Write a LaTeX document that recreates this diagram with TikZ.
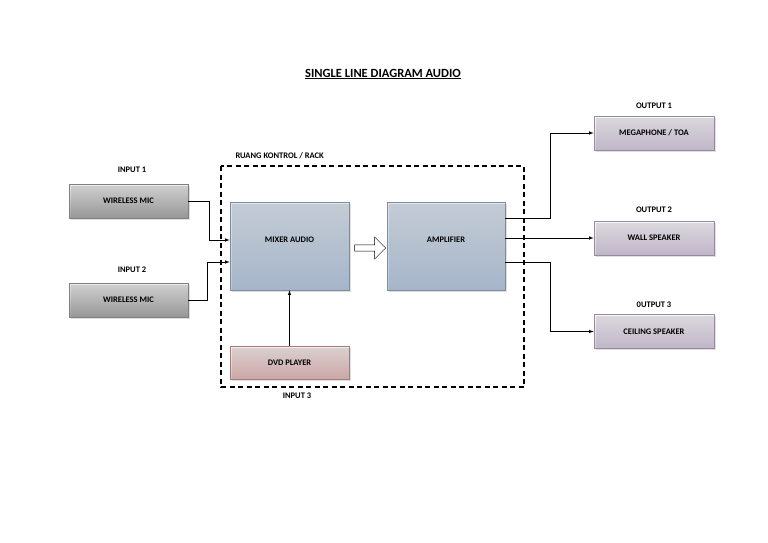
\documentclass[tikz,border=0pt]{standalone}
\usepackage{fontspec}
\setmainfont{Carlito}
\usetikzlibrary{shapes.arrows,shadows}
\definecolor{bt}{HTML}{DCE6F2}\definecolor{bb}{HTML}{B2C8E2}
\definecolor{pt}{HTML}{FAF8FC}\definecolor{pb}{HTML}{D6C8E2}
\definecolor{rt}{HTML}{FBEDED}\definecolor{rb}{HTML}{E6B4B4}
\begin{document}
\begin{tikzpicture}[x=1pt,y=-1pt,
  box/.style={draw=#1, line width=0.6pt, drop shadow={opacity=0.25,shadow xshift=1.5pt,shadow yshift=-1.5pt}},
  lbl/.style={font=\bfseries\fontsize{8.5}{10}\selectfont},
  conn/.style={-latex, line width=0.6pt}]
\useasboundingbox (0,0) rectangle (768,543);
\node[lbl,font=\bfseries\fontsize{12.5}{14}\selectfont] (title) at (383,74) {\underline{SINGLE LINE DIAGRAM AUDIO}};
% gray
\shade[top color=gray!15,bottom color=gray!75] (69,184) rectangle (188,218);
\node[box=gray,minimum width=119pt,minimum height=34pt,inner sep=0] (mic1) at (128.5,201) {};
\node[lbl] at (mic1) {WIRELESS MIC};
\shade[top color=gray!15,bottom color=gray!75] (69,283) rectangle (188,317);
\node[box=gray,minimum width=119pt,minimum height=34pt,inner sep=0] (mic2) at (128.5,300) {};
\node[lbl] at (mic2) {WIRELESS MIC};
\node[lbl] (in1) at (132,170) {INPUT 1};
\node[lbl] (in2) at (132,270) {INPUT 2};
% rack
\draw[line width=1.1pt,dash pattern=on 5pt off 3.5pt] (221,166) rectangle (524,387);
\node[lbl,anchor=west] (rack) at (232,156) {RUANG KONTROL / RACK};
\shade[top color=bt,bottom color=bb] (230,202) rectangle (349,290);
\node[box=bb!70!black,minimum width=119pt,minimum height=88pt,inner sep=0] (mix) at (289.5,246) {};
\node[lbl] at (289.5,240) {MIXER AUDIO};
\shade[top color=bt,bottom color=bb] (387,202) rectangle (505,290);
\node[box=bb!70!black,minimum width=118pt,minimum height=88pt,inner sep=0] (amp) at (446,246) {};
\node[lbl] at (446,240) {AMPLIFIER};
\shade[top color=rt,bottom color=rb] (230,346) rectangle (349,379);
\node[box=rb!70!black,minimum width=119pt,minimum height=33pt,inner sep=0] (dvd) at (289.5,362.5) {};
\node[lbl] at (dvd) {DVD PLAYER};
\node[lbl] (in3) at (297,396) {INPUT 3};
\node[single arrow,draw,fill=white,minimum height=31pt,minimum width=22pt,single arrow head extend=3pt,inner sep=1pt,line width=0.5pt] (big) at (368.5,248) {};
% outputs
\foreach \n/\y/\t/\o/\oy in {o1/133/{MEGAPHONE / TOA}/{OUTPUT 1}/106, o2/238/{WALL SPEAKER}/{OUTPUT 2}/210, o3/331.5/{CEILING SPEAKER}/{0UTPUT 3}/305}{
  \shade[top color=pt,bottom color=pb] (594,\y-17) rectangle (714,\y+17);
  \node[box=pb!70!black,minimum width=120pt,minimum height=34pt,inner sep=0] (\n) at (654,\y) {};
  \node[lbl] at (\n) {\t};
  \node[lbl] at (654,\oy) {\o};
}
% connectors
\draw[conn] (mic1.east |- 0,201) -- (209,201) -- (209,240) -- (mix.west |- 0,240);
\draw[conn] (mic2.east |- 0,300) -- (207,300) -- (207,262) -- (mix.west |- 0,262);
\draw[conn] (dvd.north) -- (mix.south);
\draw[conn] (amp.east |- 0,218) -- (550,218) -- (550,133) -- (o1.west);
\draw[conn] (amp.east |- 0,238) -- (o2.west);
\draw[conn] (amp.east |- 0,262) -- (550,262) -- (550,331.5) -- (o3.west);
\end{tikzpicture}
\end{document}
